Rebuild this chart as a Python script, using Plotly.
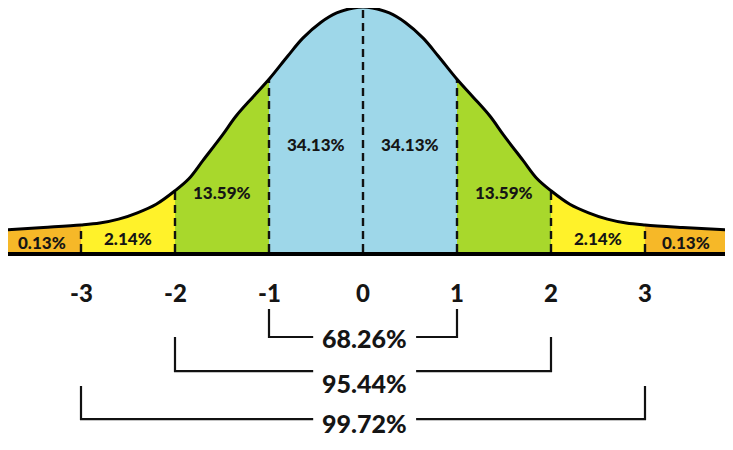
import plotly.graph_objects as go

# ---- data ----
left_x = [-3.83, -3.4, -3.0, -2.8, -2.6, -2.4, -2.2, -2.0, -1.85, -1.7, -1.5, -1.35, -1.17,
          -1.0, -0.8, -0.64, -0.45, -0.28, -0.1]
left_h = [0.09, 0.10, 0.11, 0.118, 0.134, 0.16, 0.195, 0.25, 0.30, 0.375, 0.475, 0.555, 0.633,
          0.705, 0.80, 0.873, 0.937, 0.976, 0.996]
right_x = [0.1, 0.28, 0.45, 0.64, 0.8, 1.0, 1.17, 1.35, 1.5, 1.7, 1.85, 2.0, 2.2, 2.4, 2.6,
           2.8, 3.0, 3.4, 3.88]
right_h = [0.996, 0.976, 0.937, 0.873, 0.80, 0.705, 0.633, 0.555, 0.475, 0.375, 0.30, 0.25, 0.195,
           0.16, 0.134, 0.118, 0.11, 0.10, 0.09]
peak_x, peak_h = 0.0, 1.0
curve_x = left_x + [peak_x] + right_x
curve_h = left_h + [peak_h] + right_h

bounds = [-3.83, -3, -2, -1, 0, 1, 2, 3, 3.88]
seg_pct = [0.13, 2.14, 13.59, 34.13, 34.13, 13.59, 2.14, 0.13]
sigma_ticks = [-3, -2, -1, 0, 1, 2, 3]
range_sigma = [1, 2, 3]
range_pct = [68.26, 95.44, 99.72]

# ---- styles / layout ----
seg_colors = ["#F6B828", "#FFF22A", "#A8D82C", "#9ED7E9", "#9ED7E9", "#A8D82C", "#FFF22A", "#F6B828"]
seg_label_y = [0.037, 0.057, 0.241, 0.437, 0.437, 0.241, 0.057, 0.037]
FONT = "Lato"
TXT = "#151515"
OFF = 8  # page body margin in px

fig = go.Figure()

# fills per segment
for i in range(len(seg_pct)):
    a, b = bounds[i], bounds[i + 1]
    xs = [x for x in curve_x if a - 1e-9 <= x <= b + 1e-9]
    hs = [h for x, h in zip(curve_x, curve_h) if a - 1e-9 <= x <= b + 1e-9]
    fig.add_trace(go.Scatter(x=xs, y=hs, mode="lines", line=dict(width=0, shape="spline", smoothing=1),
                             fill="tozeroy", fillcolor=seg_colors[i], hoverinfo="skip", showlegend=False))

# dashed verticals
hmap = dict(zip(curve_x, curve_h))
for s in sigma_ticks:
    fig.add_trace(go.Scatter(x=[s, s], y=[0, hmap[float(s)]], mode="lines",
                             line=dict(color="#111", width=2.4, dash="8px,5px"),
                             hoverinfo="skip", showlegend=False))

# curve
fig.add_trace(go.Scatter(x=curve_x, y=curve_h, mode="lines",
                         line=dict(color="#000", width=3, shape="spline", smoothing=1),
                         hoverinfo="skip", showlegend=False))

# baseline
fig.add_trace(go.Scatter(x=[bounds[0], bounds[-1]], y=[-0.008, -0.008], mode="lines",
                         line=dict(color="#000", width=4), hoverinfo="skip", showlegend=False))

ann = []
for i, p in enumerate(seg_pct):
    ann.append(dict(x=(bounds[i] + bounds[i + 1]) / 2, y=seg_label_y[i], text=f"{p:.2f}%",
                    showarrow=False, font=dict(family=FONT, size=17, color=TXT, weight=900)))
for s in sigma_ticks:
    ann.append(dict(x=s, y=-0.167, text=f"{s}", showarrow=False,
                    font=dict(family=FONT, size=24, color=TXT, weight=900)))

# brackets
top_y = [-0.233, -0.347, -0.547]
line_y = [-0.347, -0.486, -0.682]
text_y = [-0.351, -0.535, -0.698]
for k, s in enumerate(range_sigma):
    fig.add_trace(go.Scatter(x=[-s, -s, -0.53], y=[top_y[k], line_y[k], line_y[k]], mode="lines",
                             line=dict(color="#111", width=2.2), hoverinfo="skip", showlegend=False))
    fig.add_trace(go.Scatter(x=[0.565, s, s], y=[line_y[k], line_y[k], top_y[k]], mode="lines",
                             line=dict(color="#111", width=2.2), hoverinfo="skip", showlegend=False))
    ann.append(dict(x=0.02, y=text_y[k], text=f"{range_pct[k]:.2f}%", showarrow=False,
                    font=dict(family=FONT, size=25, color=TXT, weight=900)))

fig.update_layout(
    width=733, height=450, margin=dict(l=0, r=0, t=0, b=0),
    paper_bgcolor="white", plot_bgcolor="white",
    xaxis=dict(range=[(OFF - 363) / 94, (733 + OFF - 363) / 94], visible=False, fixedrange=True),
    yaxis=dict(range=[-(450 + OFF - 252) / 245, (252 - OFF) / 245], visible=False, fixedrange=True),
    annotations=ann,
)
fig.write_html("out.html")
